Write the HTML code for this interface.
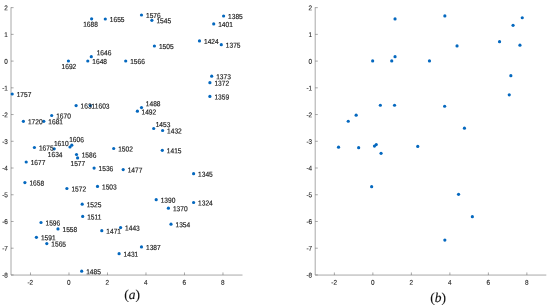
<!DOCTYPE html>
<html><head><meta charset="utf-8"><title>Figure</title>
<style>
html,body{margin:0;padding:0;background:#fff;}
body{width:550px;height:307px;overflow:hidden;}
svg{display:block;}
svg text{font-family:"Liberation Sans",Arial,sans-serif;font-size:6.6px;fill:#1a1a1a;stroke:#1a1a1a;stroke-width:0.15px;text-rendering:geometricPrecision;}
svg text.tk{font-size:6.4px;fill:#2a2a2a;stroke:#2a2a2a;stroke-width:0.12px;}
svg text.cap{font-family:"Liberation Serif","Times New Roman",serif;font-size:13.5px;fill:#111;stroke:#111;stroke-width:0.12px;}
</style></head><body>
<svg width="550" height="307" viewBox="0 0 550 307">
<rect width="550" height="307" fill="#fff"/>
<g class="axes-a"><path d="M11.0 7.340000000000001V275.05H242.5" fill="none" stroke="#a8a8a8" stroke-width="1"/>
<text transform="translate(7.90 10.24) rotate(0.15) scale(1 1.08)" class="tk" text-anchor="end">2</text>
<text transform="translate(7.90 36.97) rotate(0.15) scale(1 1.08)" class="tk" text-anchor="end">1</text>
<text transform="translate(7.90 63.70) rotate(0.15) scale(1 1.08)" class="tk" text-anchor="end">0</text>
<text transform="translate(7.90 90.43) rotate(0.15) scale(1 1.08)" class="tk" text-anchor="end">-1</text>
<text transform="translate(7.90 117.16) rotate(0.15) scale(1 1.08)" class="tk" text-anchor="end">-2</text>
<text transform="translate(7.90 143.89) rotate(0.15) scale(1 1.08)" class="tk" text-anchor="end">-3</text>
<text transform="translate(7.90 170.62) rotate(0.15) scale(1 1.08)" class="tk" text-anchor="end">-4</text>
<text transform="translate(7.90 197.35) rotate(0.15) scale(1 1.08)" class="tk" text-anchor="end">-5</text>
<text transform="translate(7.90 224.08) rotate(0.15) scale(1 1.08)" class="tk" text-anchor="end">-6</text>
<text transform="translate(7.90 250.81) rotate(0.15) scale(1 1.08)" class="tk" text-anchor="end">-7</text>
<text transform="translate(7.90 277.54) rotate(0.15) scale(1 1.08)" class="tk" text-anchor="end">-8</text>
<text transform="translate(30.27 284.85) rotate(0.15) scale(1 1.08)" class="tk" text-anchor="middle">-2</text>
<text transform="translate(68.77 284.85) rotate(0.15) scale(1 1.08)" class="tk" text-anchor="middle">0</text>
<text transform="translate(107.27 284.85) rotate(0.15) scale(1 1.08)" class="tk" text-anchor="middle">2</text>
<text transform="translate(145.77 284.85) rotate(0.15) scale(1 1.08)" class="tk" text-anchor="middle">4</text>
<text transform="translate(184.27 284.85) rotate(0.15) scale(1 1.08)" class="tk" text-anchor="middle">6</text>
<text transform="translate(222.77 284.85) rotate(0.15) scale(1 1.08)" class="tk" text-anchor="middle">8</text>
<path d="M11.0 7.64h2.6 M11.0 34.37h2.6 M11.0 61.10h2.6 M11.0 87.83h2.6 M11.0 114.56h2.6 M11.0 141.29h2.6 M11.0 168.02h2.6 M11.0 194.75h2.6 M11.0 221.48h2.6 M11.0 248.21h2.6 M11.0 274.94h2.6 M30.47 275.05v-2.6 M68.97 275.05v-2.6 M107.47 275.05v-2.6 M145.97 275.05v-2.6 M184.47 275.05v-2.6 M222.97 275.05v-2.6" fill="none" stroke="#6e6e6e" stroke-width="0.6"/></g>
<g class="axes-b"><path d="M315.2 7.340000000000001V275.05H546.3" fill="none" stroke="#a8a8a8" stroke-width="1"/>
<text transform="translate(312.10 10.24) rotate(0.15) scale(1 1.08)" class="tk" text-anchor="end">2</text>
<text transform="translate(312.10 36.97) rotate(0.15) scale(1 1.08)" class="tk" text-anchor="end">1</text>
<text transform="translate(312.10 63.70) rotate(0.15) scale(1 1.08)" class="tk" text-anchor="end">0</text>
<text transform="translate(312.10 90.43) rotate(0.15) scale(1 1.08)" class="tk" text-anchor="end">-1</text>
<text transform="translate(312.10 117.16) rotate(0.15) scale(1 1.08)" class="tk" text-anchor="end">-2</text>
<text transform="translate(312.10 143.89) rotate(0.15) scale(1 1.08)" class="tk" text-anchor="end">-3</text>
<text transform="translate(312.10 170.62) rotate(0.15) scale(1 1.08)" class="tk" text-anchor="end">-4</text>
<text transform="translate(312.10 197.35) rotate(0.15) scale(1 1.08)" class="tk" text-anchor="end">-5</text>
<text transform="translate(312.10 224.08) rotate(0.15) scale(1 1.08)" class="tk" text-anchor="end">-6</text>
<text transform="translate(312.10 250.81) rotate(0.15) scale(1 1.08)" class="tk" text-anchor="end">-7</text>
<text transform="translate(312.10 277.54) rotate(0.15) scale(1 1.08)" class="tk" text-anchor="end">-8</text>
<text transform="translate(334.17 284.85) rotate(0.15) scale(1 1.08)" class="tk" text-anchor="middle">-2</text>
<text transform="translate(372.67 284.85) rotate(0.15) scale(1 1.08)" class="tk" text-anchor="middle">0</text>
<text transform="translate(411.17 284.85) rotate(0.15) scale(1 1.08)" class="tk" text-anchor="middle">2</text>
<text transform="translate(449.67 284.85) rotate(0.15) scale(1 1.08)" class="tk" text-anchor="middle">4</text>
<text transform="translate(488.17 284.85) rotate(0.15) scale(1 1.08)" class="tk" text-anchor="middle">6</text>
<text transform="translate(526.67 284.85) rotate(0.15) scale(1 1.08)" class="tk" text-anchor="middle">8</text>
<path d="M315.2 7.64h2.6 M315.2 34.37h2.6 M315.2 61.10h2.6 M315.2 87.83h2.6 M315.2 114.56h2.6 M315.2 141.29h2.6 M315.2 168.02h2.6 M315.2 194.75h2.6 M315.2 221.48h2.6 M315.2 248.21h2.6 M315.2 274.94h2.6 M334.37 275.05v-2.6 M372.87 275.05v-2.6 M411.37 275.05v-2.6 M449.87 275.05v-2.6 M488.37 275.05v-2.6 M526.87 275.05v-2.6" fill="none" stroke="#6e6e6e" stroke-width="0.6"/></g>
<g class="pts-a" fill="#0468bf">
<circle cx="141.5" cy="15.0" r="1.6"/>
<circle cx="151.9" cy="20.3" r="1.6"/>
<circle cx="223.6" cy="16.0" r="1.6"/>
<circle cx="213.7" cy="23.9" r="1.6"/>
<circle cx="199.5" cy="40.9" r="1.6"/>
<circle cx="221.3" cy="44.7" r="1.6"/>
<circle cx="154.4" cy="46.0" r="1.6"/>
<circle cx="91.6" cy="18.8" r="1.6"/>
<circle cx="105.3" cy="19.0" r="1.6"/>
<circle cx="91.3" cy="56.7" r="1.6"/>
<circle cx="68.4" cy="61.0" r="1.6"/>
<circle cx="87.8" cy="61.0" r="1.6"/>
<circle cx="125.7" cy="61.0" r="1.6"/>
<circle cx="211.7" cy="76.2" r="1.6"/>
<circle cx="209.9" cy="82.7" r="1.6"/>
<circle cx="209.9" cy="96.4" r="1.6"/>
<circle cx="12.2" cy="94.0" r="1.6"/>
<circle cx="76.1" cy="105.6" r="1.6"/>
<circle cx="90.3" cy="105.6" r="1.6"/>
<circle cx="51.7" cy="115.5" r="1.6"/>
<circle cx="23.4" cy="121.3" r="1.6"/>
<circle cx="43.8" cy="121.3" r="1.6"/>
<circle cx="141.5" cy="107.6" r="1.6"/>
<circle cx="137.4" cy="111.2" r="1.6"/>
<circle cx="153.7" cy="128.5" r="1.6"/>
<circle cx="162.6" cy="130.5" r="1.6"/>
<circle cx="71.8" cy="145.2" r="1.6"/>
<circle cx="70.0" cy="147.0" r="1.6"/>
<circle cx="34.4" cy="147.5" r="1.6"/>
<circle cx="54.2" cy="148.8" r="1.6"/>
<circle cx="76.5" cy="154.5" r="1.6"/>
<circle cx="77.6" cy="157.9" r="1.6"/>
<circle cx="113.7" cy="148.5" r="1.6"/>
<circle cx="26.2" cy="162.0" r="1.6"/>
<circle cx="94.1" cy="168.1" r="1.6"/>
<circle cx="123.2" cy="169.6" r="1.6"/>
<circle cx="162.3" cy="150.3" r="1.6"/>
<circle cx="193.6" cy="173.7" r="1.6"/>
<circle cx="24.9" cy="182.6" r="1.6"/>
<circle cx="66.9" cy="188.5" r="1.6"/>
<circle cx="97.5" cy="186.4" r="1.6"/>
<circle cx="82.2" cy="204.2" r="1.6"/>
<circle cx="156.2" cy="199.7" r="1.6"/>
<circle cx="193.6" cy="202.5" r="1.6"/>
<circle cx="168.4" cy="208.2" r="1.6"/>
<circle cx="82.7" cy="216.4" r="1.6"/>
<circle cx="41.0" cy="222.5" r="1.6"/>
<circle cx="58.0" cy="228.9" r="1.6"/>
<circle cx="101.8" cy="230.7" r="1.6"/>
<circle cx="120.6" cy="227.6" r="1.6"/>
<circle cx="171.0" cy="224.2" r="1.6"/>
<circle cx="36.4" cy="237.3" r="1.6"/>
<circle cx="46.8" cy="243.6" r="1.6"/>
<circle cx="119.1" cy="253.7" r="1.6"/>
<circle cx="141.5" cy="246.9" r="1.6"/>
<circle cx="81.7" cy="271.2" r="1.6"/>
</g>
<g class="lbl-a" fill="#222">
<text transform="translate(146.00 18.00) rotate(0.15) scale(1 1.1)">1576</text>
<text transform="translate(156.40 23.30) rotate(0.15) scale(1 1.1)">1545</text>
<text transform="translate(228.10 19.00) rotate(0.15) scale(1 1.1)">1385</text>
<text transform="translate(218.20 26.90) rotate(0.15) scale(1 1.1)">1401</text>
<text transform="translate(204.00 43.90) rotate(0.15) scale(1 1.1)">1424</text>
<text transform="translate(225.80 47.70) rotate(0.15) scale(1 1.1)">1375</text>
<text transform="translate(158.90 49.00) rotate(0.15) scale(1 1.1)">1505</text>
<text transform="translate(90.50 26.80) rotate(0.15) scale(1 1.1)" text-anchor="middle">1688</text>
<text transform="translate(109.80 22.00) rotate(0.15) scale(1 1.1)">1655</text>
<text transform="translate(96.70 55.30) rotate(0.15) scale(1 1.1)">1646</text>
<text transform="translate(68.90 69.10) rotate(0.15) scale(1 1.1)" text-anchor="middle">1692</text>
<text transform="translate(92.30 64.00) rotate(0.15) scale(1 1.1)">1648</text>
<text transform="translate(130.20 64.00) rotate(0.15) scale(1 1.1)">1566</text>
<text transform="translate(216.20 79.20) rotate(0.15) scale(1 1.1)">1373</text>
<text transform="translate(214.40 85.70) rotate(0.15) scale(1 1.1)">1372</text>
<text transform="translate(214.40 99.40) rotate(0.15) scale(1 1.1)">1359</text>
<text transform="translate(16.70 97.00) rotate(0.15) scale(1 1.1)">1757</text>
<text transform="translate(80.60 108.60) rotate(0.15) scale(1 1.1)">1631</text>
<text transform="translate(94.80 108.60) rotate(0.15) scale(1 1.1)">1603</text>
<text transform="translate(56.20 118.50) rotate(0.15) scale(1 1.1)">1670</text>
<text transform="translate(27.90 124.30) rotate(0.15) scale(1 1.1)">1720</text>
<text transform="translate(48.30 124.30) rotate(0.15) scale(1 1.1)">1681</text>
<text transform="translate(145.80 106.20) rotate(0.15) scale(1 1.1)">1488</text>
<text transform="translate(141.50 114.40) rotate(0.15) scale(1 1.1)">1492</text>
<text transform="translate(155.70 127.10) rotate(0.15) scale(1 1.1)">1453</text>
<text transform="translate(167.10 133.50) rotate(0.15) scale(1 1.1)">1432</text>
<text transform="translate(69.20 142.10) rotate(0.15) scale(1 1.1)">1606</text>
<text transform="translate(53.90 145.90) rotate(0.15) scale(1 1.1)">1610</text>
<text transform="translate(38.90 150.50) rotate(0.15) scale(1 1.1)">1675</text>
<text transform="translate(47.80 157.10) rotate(0.15) scale(1 1.1)">1634</text>
<text transform="translate(81.70 157.60) rotate(0.15) scale(1 1.1)">1586</text>
<text transform="translate(70.50 166.00) rotate(0.15) scale(1 1.1)">1577</text>
<text transform="translate(118.20 151.50) rotate(0.15) scale(1 1.1)">1502</text>
<text transform="translate(30.70 165.00) rotate(0.15) scale(1 1.1)">1677</text>
<text transform="translate(98.60 171.10) rotate(0.15) scale(1 1.1)">1536</text>
<text transform="translate(127.70 172.60) rotate(0.15) scale(1 1.1)">1477</text>
<text transform="translate(166.80 153.30) rotate(0.15) scale(1 1.1)">1415</text>
<text transform="translate(198.10 176.70) rotate(0.15) scale(1 1.1)">1345</text>
<text transform="translate(29.40 185.60) rotate(0.15) scale(1 1.1)">1658</text>
<text transform="translate(71.40 191.50) rotate(0.15) scale(1 1.1)">1572</text>
<text transform="translate(102.00 189.40) rotate(0.15) scale(1 1.1)">1503</text>
<text transform="translate(86.70 207.20) rotate(0.15) scale(1 1.1)">1525</text>
<text transform="translate(160.70 202.70) rotate(0.15) scale(1 1.1)">1390</text>
<text transform="translate(198.10 205.50) rotate(0.15) scale(1 1.1)">1324</text>
<text transform="translate(172.90 211.20) rotate(0.15) scale(1 1.1)">1370</text>
<text transform="translate(87.20 219.40) rotate(0.15) scale(1 1.1)">1511</text>
<text transform="translate(45.50 225.50) rotate(0.15) scale(1 1.1)">1596</text>
<text transform="translate(62.50 231.90) rotate(0.15) scale(1 1.1)">1558</text>
<text transform="translate(106.30 233.70) rotate(0.15) scale(1 1.1)">1471</text>
<text transform="translate(125.10 230.60) rotate(0.15) scale(1 1.1)">1443</text>
<text transform="translate(175.50 227.20) rotate(0.15) scale(1 1.1)">1354</text>
<text transform="translate(40.90 240.30) rotate(0.15) scale(1 1.1)">1591</text>
<text transform="translate(51.30 246.60) rotate(0.15) scale(1 1.1)">1565</text>
<text transform="translate(123.60 256.70) rotate(0.15) scale(1 1.1)">1431</text>
<text transform="translate(146.00 249.90) rotate(0.15) scale(1 1.1)">1387</text>
<text transform="translate(86.20 274.20) rotate(0.15) scale(1 1.1)">1485</text>
</g>
<g class="pts-b" fill="#0468bf">
<circle cx="395.05" cy="18.95" r="1.6"/>
<circle cx="395.05" cy="56.65" r="1.6"/>
<circle cx="372.65" cy="60.95" r="1.6"/>
<circle cx="391.75" cy="60.95" r="1.6"/>
<circle cx="429.45" cy="60.95" r="1.6"/>
<circle cx="444.85" cy="15.95" r="1.6"/>
<circle cx="522.25" cy="17.75" r="1.6"/>
<circle cx="513.05" cy="25.35" r="1.6"/>
<circle cx="499.55" cy="41.65" r="1.6"/>
<circle cx="519.95" cy="45.15" r="1.6"/>
<circle cx="457.05" cy="45.95" r="1.6"/>
<circle cx="510.85" cy="75.65" r="1.6"/>
<circle cx="509.25" cy="94.85" r="1.6"/>
<circle cx="444.65" cy="106.25" r="1.6"/>
<circle cx="464.45" cy="128.15" r="1.6"/>
<circle cx="380.35" cy="105.25" r="1.6"/>
<circle cx="394.55" cy="105.25" r="1.6"/>
<circle cx="356.15" cy="115.15" r="1.6"/>
<circle cx="348.25" cy="121.25" r="1.6"/>
<circle cx="338.55" cy="147.15" r="1.6"/>
<circle cx="358.65" cy="147.65" r="1.6"/>
<circle cx="376.25" cy="144.55" r="1.6"/>
<circle cx="374.45" cy="146.05" r="1.6"/>
<circle cx="381.05" cy="153.35" r="1.6"/>
<circle cx="417.75" cy="146.45" r="1.6"/>
<circle cx="371.65" cy="186.65" r="1.6"/>
<circle cx="458.55" cy="194.35" r="1.6"/>
<circle cx="472.35" cy="216.65" r="1.6"/>
<circle cx="444.85" cy="240.05" r="1.6"/>
</g>
<text class="cap" x="132.2" y="299.2" text-anchor="middle">(<tspan font-style="italic">a</tspan>)</text>
<text class="cap" x="438" y="301.5" text-anchor="middle">(<tspan font-style="italic">b</tspan>)</text>
</svg></body></html>
